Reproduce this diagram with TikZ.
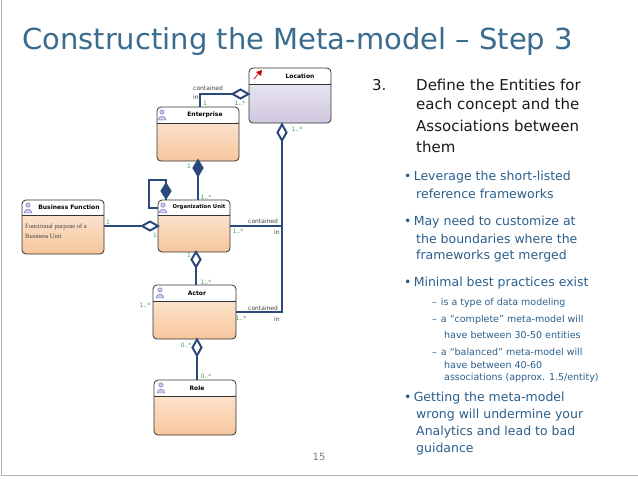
\documentclass[tikz,border=0pt]{standalone}
\usepackage{fontspec}
\setmainfont{DejaVu Sans}
\newfontfamily\serifb{Liberation Serif}
\usetikzlibrary{shapes.geometric}
\definecolor{titleblue}{HTML}{3A6C8E}
\definecolor{bulblue}{HTML}{2B5F8C}
\definecolor{linec}{HTML}{2B4A7C}
\definecolor{multg}{HTML}{3AA34A}
\definecolor{orgtop}{HTML}{FDEDE0}
\definecolor{orgbot}{HTML}{F7C69C}
\definecolor{loctop}{HTML}{F1EEF6}
\definecolor{locbot}{HTML}{CFC7DF}
\newcommand\umlbox[9]{% name x1 y1 x2 y2 hy title topc botc
  \shade[top color=#8,bottom color=#9,rounded corners=4] (#2,#3) rectangle (#4,#5);
  \fill[white,rounded corners=4] (#2,#6) |- ({(#2+#4)/2},#3) -| (#4,#6) [sharp corners] -- cycle;
  \draw[black!80,line width=0.8] (#2,#6) -- (#4,#6);
  \node[draw=black!80,line width=0.8,rounded corners=4,inner sep=0,minimum width={(#4-#2)*1pt},minimum height={(#5-#3)*1pt}] (#1) at ({(#2+#4)/2},{(#3+#5)/2}) {};
}
\newcommand\person[2]{%
  \fill[cyan!25!blue!20,draw=blue!40!gray,line width=0.3] (#1,#2-3) circle (2.2);
  \fill[cyan!25!blue!20,draw=blue!40!gray,line width=0.3] (#1-4,#2+5) .. controls (#1-4,#2) and (#1+4,#2) .. (#1+4,#2+5) -- cycle;
}
\newcommand\vdia[4]{\draw[linec,line width=2,fill=#3] (#1,#2-#4) -- (#1+4.5,#2) -- (#1,#2+#4) -- (#1-4.5,#2) -- cycle;}
\newcommand\hdia[4]{\draw[linec,line width=2,fill=#3] (#1-#4,#2) -- (#1,#2-4.5) -- (#1+#4,#2) -- (#1,#2+4.5) -- cycle;}
\tikzset{
  conn/.style={draw=linec,line width=2.2},
  mult/.style={text=multg,font=\fontsize{6}{6}\selectfont,inner sep=0},
  cin/.style={text=black!75,font=\fontsize{6}{6}\selectfont,inner sep=0},
  ttl/.style={font=\fontsize{6}{6}\selectfont\bfseries,inner sep=0},
  main/.style={anchor=west,inner sep=0,font=\fontsize{15}{15}\selectfont,text=black!90},
  bul/.style={anchor=west,inner sep=0,font=\fontsize{12.5}{12.5}\selectfont,text=bulblue},
  sub/.style={anchor=west,inner sep=0,font=\fontsize{9.5}{9.5}\selectfont,text=bulblue},
}
\begin{document}
\begin{tikzpicture}[x=1pt,y=-1pt]
\useasboundingbox (0,0) rectangle (638,479);
\fill[white] (0,0) rectangle (638,479);
\draw[gray!60,line width=1] (1,0) -- (1,475) -- (638,475);
\node[anchor=west,inner sep=0,text=titleblue,font=\fontsize{29}{29}\selectfont] (title) at (22,41) {Constructing the Meta-model – Step 3};

% boxes
\umlbox{loc}{249}{68}{331}{123}{84}{}{loctop}{locbot}
\umlbox{ent}{157}{107}{239}{161}{123}{}{orgtop}{orgbot}
\umlbox{bf}{22}{200}{104}{254}{215}{}{orgtop}{orgbot}
\umlbox{org}{158}{200}{230}{252}{215}{}{orgtop}{orgbot}
\umlbox{act}{153}{285}{236}{339}{301}{}{orgtop}{orgbot}
\umlbox{role}{154}{380}{236}{435}{396}{}{orgtop}{orgbot}
\node[ttl] (loct) at (300,76) {Location};
\node[ttl] (entt) at (205,115) {Enterprise};
\node[ttl] (bft) at (69,207.5) {Business Function};
\node[ttl,font=\fontsize{5.3}{5.3}\selectfont\bfseries] (orgt) at (199,207.5) {Organization Unit};
\node[ttl] (actt) at (197,293) {Actor};
\node[ttl] (rolet) at (197,388) {Role};
\node[anchor=north west,inner sep=0,align=left,text=black!75,font=\serifb\fontsize{6.5}{10}\selectfont] (bfd) at (25,224) {Functional purpose of a\\Business Unit};
\person{162}{115}\person{28}{208}\person{163}{208}\person{160}{293}\person{161}{388}
\fill[red!80!black] (256,72) -- (262,70) -- (261,76) -- cycle;
\draw[red!70!black,line width=0.7] (258,74) -- (254,79);

% connectors
\draw[conn] (ent.north -| 200,0) |- (loc.west |- 0,94);
\hdia{240.5}{94}{white}{8}
\draw[conn] (loc.south -| 282,0) |- (act.east |- 0,312);
\draw[conn] (282,226) -- (org.east |- 0,226);
\vdia{282}{132.5}{white}{8}
\draw[conn] (ent.south -| 198,0) -- (org.north -| 198,0);
\vdia{198}{168}{linec}{7.5}
\draw[conn] (org.north -| 166,0) |- (149,180) |- (org.west |- 0,208);
\vdia{166}{191}{linec}{7}
\draw[conn] (bf.east |- 0,226) -- (org.west |- 0,226);
\hdia{150}{226}{white}{8}
\draw[conn] (org.south -| 196,0) -- (act.north -| 196,0);
\vdia{196}{259.5}{white}{7.5}
\draw[conn] (act.south -| 197,0) -- (role.north -| 197,0);
\vdia{197}{347.5}{white}{8}

% labels
\node[cin,anchor=west] (c1) at (193,88) {contained};
\node[cin,anchor=west] (c1b) at (193,97.5) {in};
\node[cin,anchor=west] (c2) at (248,221.5) {contained};
\node[cin,anchor=west] (c2b) at (274,232) {in};
\node[cin,anchor=west] (c3) at (248,308.5) {contained};
\node[cin,anchor=west] (c3b) at (274,319) {in};
\node[mult] (m1) at (205,103.5) {1};
\node[mult] (m2) at (240,103.5) {1..*};
\node[mult] (m3) at (297,129.5) {1..*};
\node[mult] (m4) at (189,166.5) {1};
\node[mult] (m5) at (206,197) {1..*};
\node[mult] (m6) at (108,222) {1};
\node[mult] (m7) at (155,235.5) {1};
\node[mult] (m8) at (238,231) {1..*};
\node[mult] (m9) at (189,255) {1};
\node[mult] (m10) at (206,282) {1..*};
\node[mult] (m11) at (145,305) {1..*};
\node[mult] (m12) at (241,318) {1..*};
\node[mult] (m13) at (186,345) {0..*};
\node[mult] (m14) at (206,376) {0..*};

% right text
\node[main] (n3) at (372,85) {3.};
\node[main] (l1) at (416,85) {Define the Entities for};
\node[main] (l2) at (416,105) {each concept and the};
\node[main] (l3) at (416,126) {Associations between};
\node[main] (l4) at (416,147) {them};
\foreach \y/\t [count=\i] in {177/Leverage the short-listed,222/May need to customize at,283/Minimal best practices exist,398/Getting the meta-model}
  \node[bul] (b\i) at (404,\y) {\textbullet\hspace{2.2pt}\t};
\node[bul] (b1b) at (416,194) {reference frameworks};
\node[bul] (b2b) at (416,239) {the boundaries where the};
\node[bul] (b2c) at (416,256) {frameworks get merged};
\node[bul] (b4b) at (416,415) {wrong will undermine your};
\node[bul] (b4c) at (416,432) {Analytics and lead to bad};
\node[bul] (b4d) at (416,449) {guidance};
\node[sub] (s1) at (432,303) {–\hspace{4pt}is a type of data modeling};
\node[sub] (s2) at (432,320) {–\hspace{4pt}a “complete” meta-model will};
\node[sub] (s2b) at (444,335) {have between 30-50 entities};
\node[sub] (s3) at (432,352) {–\hspace{4pt}a “balanced” meta-model will};
\node[sub] (s3b) at (444,365) {have between 40-60};
\node[sub] (s3c) at (444,378) {associations (approx. 1.5/entity)};
\node[inner sep=0,text=gray,font=\fontsize{10}{10}\selectfont] (pg) at (319,457) {15};
\end{tikzpicture}
\end{document}
